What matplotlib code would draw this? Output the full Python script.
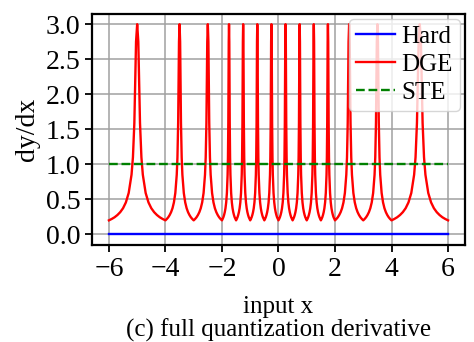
import matplotlib
matplotlib.use("Agg")
import matplotlib.pyplot as plt

# quantization levels (FP4-style grid) and the decision thresholds between them
LEVELS = [-6, -4, -3, -2, -1.5, -1, -0.5, 0, 0.5, 1, 1.5, 2, 3, 4, 6]
THRESHOLDS = [-5, -3.5, -2.5, -1.75, -1.25, -0.75, -0.25,
              0.25, 0.75, 1.25, 1.75, 2.5, 3.5, 5]

# DGE derivative: u = 0 at a level, u = 1 at the threshold
PROFILE_U = [0.0, 0.1, 0.2, 0.3, 0.4, 0.5, 0.6, 0.7, 0.8, 0.85, 0.9, 0.93, 0.96, 1.0]
PROFILE_Y = [0.2, 0.22, 0.244, 0.276, 0.317, 0.373, 0.456, 0.591, 0.851,
             1.10, 1.59, 2.19, 2.75, 3.0]

X_RANGE = [-6, 6]
HARD_Y = [0.0, 0.0]
STE_Y = [1.0, 1.0]

plt.rcParams["font.family"] = ["Liberation Serif", "DejaVu Serif"]


def dge_curve():
    xs, ys = [], []
    for i, lv in enumerate(LEVELS):
        left = THRESHOLDS[i - 1] if i > 0 else None
        right = THRESHOLDS[i] if i < len(THRESHOLDS) else None
        if left is not None:
            for u, v in zip(PROFILE_U[::-1], PROFILE_Y[::-1]):
                xs.append(lv - u * (lv - left))
                ys.append(v)
        if right is None:
            continue
        for u, v in zip(PROFILE_U, PROFILE_Y):
            if left is not None and u == 0.0:
                continue
            xs.append(lv + u * (right - lv))
            ys.append(v)
    return xs, ys


dge_x, dge_y = dge_curve()

fig, ax = plt.subplots(figsize=(4.74, 3.42), dpi=100)
fig.subplots_adjust(left=0.194, right=0.981, top=0.96, bottom=0.284)

ax.plot(X_RANGE, HARD_Y, color="blue", lw=1.7, label="Hard")
ax.plot(dge_x, dge_y, color="red", lw=1.7, label="DGE")
ax.plot(X_RANGE, STE_Y, color="green", lw=1.7, ls="--", label="STE")

ax.set_xticks([-6, -4, -2, 0, 2, 4, 6])
ax.set_yticks([0.0, 0.5, 1.0, 1.5, 2.0, 2.5, 3.0])
ax.set_xticklabels(["\u22126", "\u22124", "\u22122", "0", "2", "4", "6"])
ax.tick_params(labelsize=20, width=1.3, length=5)
ax.grid(True, color="#a0a0a0", lw=1.1)
for sp in ax.spines.values():
    sp.set_linewidth(1.6)

ax.set_ylabel("dy/dx", fontsize=20)
ax.set_xlabel("input x\n(c) full quantization derivative", fontsize=18,
              linespacing=1.08, labelpad=10)

ax.legend(loc="upper right", fontsize=18, handlelength=1.55, borderpad=0.28,
          labelspacing=0.22, handletextpad=0.28, borderaxespad=0.2)

fig.savefig("out.png", dpi=100)
